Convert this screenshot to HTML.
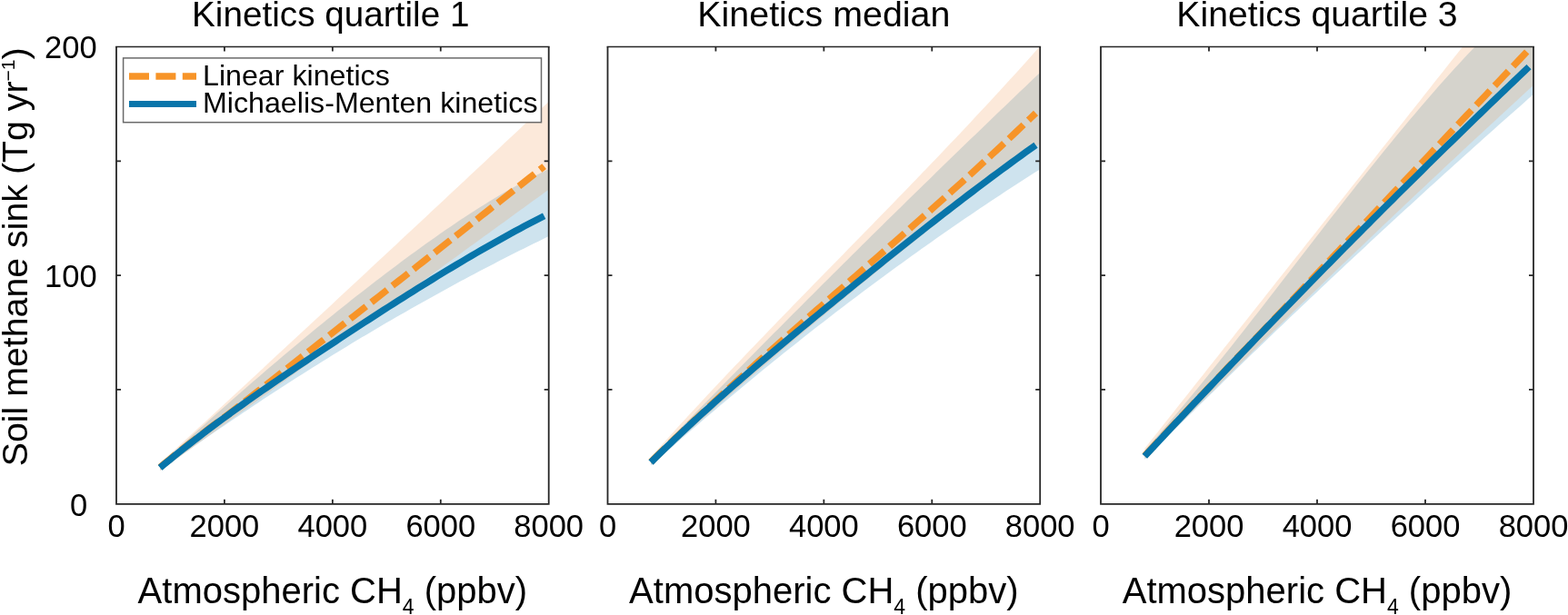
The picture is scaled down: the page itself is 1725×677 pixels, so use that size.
<!DOCTYPE html>
<html><head><meta charset="utf-8"><title>Soil methane sink vs atmospheric CH4</title>
<style>
html,body{margin:0;padding:0;background:#fff;}
svg{display:block;}
text{font-family:'Liberation Sans', Arial, Helvetica, sans-serif;fill:#000;}
</style></head><body>
<svg width="1725" height="677" viewBox="0 0 1725 677">
<defs>
<clipPath id="c0"><rect x="128.0" y="51.5" width="475.70000000000005" height="503.29999999999995"/></clipPath>
<clipPath id="c1"><rect x="668.5" y="51.5" width="475.70000000000005" height="503.29999999999995"/></clipPath>
<clipPath id="c2"><rect x="1211.0" y="51.5" width="476.0" height="503.29999999999995"/></clipPath>
</defs>
<g clip-path="url(#c0)">
<polygon points="176.11,511.52 181.51,506.56 186.92,501.62 192.32,496.70 197.73,491.78 203.13,486.88 208.54,481.99 213.94,477.12 219.35,472.26 224.75,467.41 230.16,462.58 235.56,457.76 240.97,452.96 246.37,448.18 251.78,443.41 257.18,438.66 262.59,433.92 267.99,429.20 273.40,424.50 278.80,419.81 284.21,415.14 289.61,410.49 295.02,405.86 300.42,401.24 305.83,396.65 311.23,392.07 316.64,387.51 322.04,382.97 327.45,378.45 332.85,373.95 338.26,369.48 343.66,365.02 349.07,360.58 354.47,356.16 359.88,351.77 365.28,347.40 370.69,343.04 376.09,338.71 381.50,334.41 386.90,330.12 392.31,325.86 397.71,321.63 403.12,317.41 408.52,313.22 413.93,309.06 419.33,304.91 424.74,300.80 430.14,296.71 435.55,292.64 440.95,288.60 446.36,284.58 451.76,280.60 457.17,276.64 462.57,272.71 467.98,268.82 473.38,264.95 478.79,261.13 484.19,257.34 489.60,253.59 495.00,249.88 500.41,246.21 505.81,242.58 511.22,239.00 516.62,235.46 522.03,231.97 527.43,228.53 532.84,225.14 538.24,221.81 543.65,218.52 549.05,215.29 554.46,212.12 559.86,209.01 565.27,205.96 570.67,202.96 576.08,200.03 581.49,197.17 586.89,194.37 592.30,191.64 597.70,188.98 603.11,186.38 603.11,260.37 597.70,262.99 592.30,265.64 586.89,268.29 581.49,270.97 576.08,273.66 570.67,276.37 565.27,279.09 559.86,281.83 554.46,284.59 549.05,287.36 543.65,290.15 538.24,292.95 532.84,295.77 527.43,298.61 522.03,301.46 516.62,304.33 511.22,307.22 505.81,310.12 500.41,313.04 495.00,315.98 489.60,318.93 484.19,321.90 478.79,324.88 473.38,327.88 467.98,330.90 462.57,333.93 457.17,336.98 451.76,340.05 446.36,343.13 440.95,346.23 435.55,349.35 430.14,352.48 424.74,355.62 419.33,358.79 413.93,361.97 408.52,365.17 403.12,368.38 397.71,371.61 392.31,374.85 386.90,378.12 381.50,381.39 376.09,384.69 370.69,388.00 365.28,391.33 359.88,394.67 354.47,398.03 349.07,401.41 343.66,404.80 338.26,408.21 332.85,411.63 327.45,415.07 322.04,418.53 316.64,422.00 311.23,425.50 305.83,429.00 300.42,432.53 295.02,436.06 289.61,439.62 284.21,443.19 278.80,446.78 273.40,450.39 267.99,454.01 262.59,457.64 257.18,461.30 251.78,464.97 246.37,468.65 240.97,472.36 235.56,476.07 230.16,479.81 224.75,483.56 219.35,487.33 213.94,491.11 208.54,494.91 203.13,498.73 197.73,502.56 192.32,506.41 186.92,510.28 181.51,514.16 176.11,518.06" fill="rgb(8,117,170)" fill-opacity="0.2"/>
<polygon points="176.11,510.01 181.51,505.03 186.92,500.04 192.32,495.06 197.73,490.08 203.13,485.09 208.54,480.10 213.94,475.11 219.35,470.12 224.75,465.13 230.16,460.14 235.56,455.14 240.97,450.15 246.37,445.15 251.78,440.15 257.18,435.15 262.59,430.15 267.99,425.15 273.40,420.15 278.80,415.14 284.21,410.14 289.61,405.13 295.02,400.12 300.42,395.11 305.83,390.10 311.23,385.09 316.64,380.07 322.04,375.06 327.45,370.04 332.85,365.02 338.26,360.00 343.66,354.98 349.07,349.96 354.47,344.93 359.88,339.91 365.28,334.88 370.69,329.85 376.09,324.83 381.50,319.80 386.90,314.76 392.31,309.73 397.71,304.70 403.12,299.66 408.52,294.62 413.93,289.59 419.33,284.55 424.74,279.50 430.14,274.46 435.55,269.42 440.95,264.37 446.36,259.33 451.76,254.28 457.17,249.23 462.57,244.18 467.98,239.13 473.38,234.08 478.79,229.02 484.19,223.96 489.60,218.91 495.00,213.85 500.41,208.79 505.81,203.73 511.22,198.67 516.62,193.60 522.03,188.54 527.43,183.47 532.84,178.40 538.24,173.33 543.65,168.26 549.05,163.19 554.46,158.12 559.86,153.04 565.27,147.97 570.67,142.89 576.08,137.81 581.49,132.73 586.89,127.65 592.30,122.57 597.70,117.48 603.11,112.40 603.11,209.03 597.70,212.96 592.30,216.89 586.89,220.82 581.49,224.75 576.08,228.68 570.67,232.60 565.27,236.53 559.86,240.46 554.46,244.38 549.05,248.31 543.65,252.23 538.24,256.16 532.84,260.08 527.43,264.01 522.03,267.93 516.62,271.86 511.22,275.78 505.81,279.70 500.41,283.63 495.00,287.55 489.60,291.47 484.19,295.39 478.79,299.31 473.38,303.23 467.98,307.15 462.57,311.07 457.17,314.99 451.76,318.91 446.36,322.83 440.95,326.75 435.55,330.67 430.14,334.59 424.74,338.50 419.33,342.42 413.93,346.34 408.52,350.25 403.12,354.17 397.71,358.09 392.31,362.00 386.90,365.92 381.50,369.83 376.09,373.75 370.69,377.66 365.28,381.57 359.88,385.49 354.47,389.40 349.07,393.31 343.66,397.22 338.26,401.13 332.85,405.05 327.45,408.96 322.04,412.87 316.64,416.78 311.23,420.69 305.83,424.60 300.42,428.50 295.02,432.41 289.61,436.32 284.21,440.23 278.80,444.14 273.40,448.04 267.99,451.95 262.59,455.86 257.18,459.76 251.78,463.67 246.37,467.57 240.97,471.48 235.56,475.38 230.16,479.29 224.75,483.19 219.35,487.10 213.94,491.00 208.54,494.90 203.13,498.80 197.73,502.71 192.32,506.61 186.92,510.51 181.51,514.41 176.11,518.31" fill="rgb(243,155,85)" fill-opacity="0.22"/>
<polyline points="176.11,514.28 181.45,509.87 186.80,505.51 192.15,501.19 197.50,496.91 202.85,492.67 208.20,488.47 213.55,484.31 218.89,480.19 224.24,476.11 229.59,472.06 234.94,468.05 240.29,464.07 245.64,460.12 250.99,456.20 256.33,452.10 261.68,447.92 267.03,443.73 272.38,439.55 277.73,435.36 283.08,431.18 288.43,426.99 293.77,422.80 299.12,418.61 304.47,414.43 309.82,410.24 315.17,406.05 320.52,401.86 325.87,397.66 331.21,393.47 336.56,389.28 341.91,385.09 347.26,380.89 352.61,376.70 357.96,372.50 363.31,368.31 368.66,364.11 374.00,359.92 379.35,355.72 384.70,351.52 390.05,347.32 395.40,343.12 400.75,338.92 406.10,334.72 411.44,330.52 416.79,326.32 422.14,322.12 427.49,317.92 432.84,313.71 438.19,309.51 443.54,305.31 448.88,301.10 454.23,296.90 459.58,292.69 464.93,288.48 470.28,284.27 475.63,280.07 480.98,275.86 486.32,271.65 491.67,267.44 497.02,263.23 502.37,259.02 507.72,254.81 513.07,250.59 518.42,246.38 523.77,242.17 529.11,237.95 534.46,233.74 539.81,229.52 545.16,225.31 550.51,221.09 555.86,216.87 561.21,212.65 566.55,208.44 571.90,204.22 577.25,200.00 582.60,195.78 587.95,191.56 593.30,187.33 598.65,183.11" fill="none" stroke="rgb(247,148,40)" stroke-width="7.4" stroke-dasharray="22 7.5"/>
<polyline points="176.11,514.79 181.45,510.38 186.80,506.01 192.15,501.69 197.50,497.41 202.85,493.17 208.20,488.98 213.55,484.82 218.89,480.70 224.24,476.61 229.59,472.57 234.94,468.55 240.29,464.57 245.64,460.62 250.99,456.70 256.33,452.82 261.68,448.96 267.03,445.13 272.38,441.32 277.73,437.54 283.08,433.79 288.43,430.05 293.77,426.34 299.12,422.65 304.47,418.98 309.82,415.33 315.17,411.70 320.52,408.08 325.87,404.47 331.21,400.88 336.56,397.31 341.91,393.74 347.26,390.18 352.61,386.64 357.96,383.10 363.31,379.57 368.66,376.04 374.00,372.52 379.35,369.01 384.70,365.50 390.05,362.00 395.40,358.51 400.75,355.02 406.10,351.55 411.44,348.08 416.79,344.63 422.14,341.19 427.49,337.76 432.84,334.34 438.19,330.93 443.54,327.54 448.88,324.16 454.23,320.79 459.58,317.44 464.93,314.11 470.28,310.79 475.63,307.49 480.98,304.21 486.32,300.95 491.67,297.70 497.02,294.48 502.37,291.27 507.72,288.09 513.07,284.93 518.42,281.78 523.77,278.67 529.11,275.57 534.46,272.50 539.81,269.45 545.16,266.43 550.51,263.43 555.86,260.46 561.21,257.52 566.55,254.60 571.90,251.72 577.25,248.86 582.60,246.03 587.95,243.23 593.30,240.46 598.65,237.72" fill="none" stroke="rgb(8,117,170)" stroke-width="7.4"/>
</g>
<path d="M128.0,51.5V554.8H603.7V51.5" fill="none" stroke="#262626" stroke-width="1.8"/>
<path d="M127.1,51.5H604.6" fill="none" stroke="#262626" stroke-width="1.4"/>
<path d="M246.93,554.8V549.8M246.93,51.5V56.5M365.85,554.8V549.8M365.85,51.5V56.5M484.78,554.8V549.8M484.78,51.5V56.5M128.0,428.97H133.0M603.7,428.97H598.7M128.0,303.15H133.0M603.7,303.15H598.7M128.0,177.32H133.0M603.7,177.32H598.7" stroke="#262626" stroke-width="1.8" fill="none"/>
<text x="128.00" y="591" font-size="34.5" text-anchor="middle">0</text>
<text x="246.93" y="591" font-size="34.5" text-anchor="middle">2000</text>
<text x="365.85" y="591" font-size="34.5" text-anchor="middle">4000</text>
<text x="484.78" y="591" font-size="34.5" text-anchor="middle">6000</text>
<text x="603.70" y="591" font-size="34.5" text-anchor="middle">8000</text>
<text x="363.75" y="28.9" font-size="38.7" text-anchor="middle">Kinetics quartile 1</text>
<text x="365.85" y="663.5" font-size="40" text-anchor="middle">Atmospheric CH<tspan font-size="23" dy="12.3">4</tspan><tspan dy="-12.3"> (ppbv)</tspan></text>
<g clip-path="url(#c1)">
<polygon points="716.07,504.97 721.48,499.38 726.89,493.79 732.31,488.21 737.72,482.64 743.13,477.07 748.54,471.50 753.95,465.94 759.36,460.39 764.78,454.84 770.19,449.30 775.60,443.76 781.01,438.23 786.42,432.71 791.84,427.19 797.25,421.67 802.66,416.16 808.07,410.66 813.48,405.16 818.89,399.67 824.31,394.19 829.72,388.71 835.13,383.23 840.54,377.76 845.95,372.30 851.37,366.84 856.78,361.39 862.19,355.94 867.60,350.50 873.01,345.07 878.43,339.64 883.84,334.21 889.25,328.79 894.66,323.38 900.07,317.97 905.48,312.57 910.90,307.17 916.31,301.78 921.72,296.40 927.13,291.02 932.54,285.64 937.96,280.28 943.37,274.91 948.78,269.56 954.19,264.20 959.60,258.86 965.01,253.52 970.43,248.18 975.84,242.86 981.25,237.53 986.66,232.21 992.07,226.90 997.49,221.60 1002.90,216.29 1008.31,211.00 1013.72,205.71 1019.13,200.43 1024.54,195.15 1029.96,189.87 1035.37,184.61 1040.78,179.35 1046.19,174.09 1051.60,168.84 1057.02,163.59 1062.43,158.35 1067.84,153.12 1073.25,147.89 1078.66,142.67 1084.08,137.45 1089.49,132.24 1094.90,127.04 1100.31,121.84 1105.72,116.64 1111.13,111.45 1116.55,106.27 1121.96,101.09 1127.37,95.92 1132.78,90.76 1138.19,85.59 1143.61,80.44 1143.61,186.64 1138.19,190.08 1132.78,193.54 1127.37,197.01 1121.96,200.51 1116.55,204.02 1111.13,207.55 1105.72,211.10 1100.31,214.66 1094.90,218.24 1089.49,221.84 1084.08,225.46 1078.66,229.10 1073.25,232.75 1067.84,236.42 1062.43,240.11 1057.02,243.81 1051.60,247.53 1046.19,251.27 1040.78,255.03 1035.37,258.80 1029.96,262.60 1024.54,266.41 1019.13,270.23 1013.72,274.08 1008.31,277.94 1002.90,281.82 997.49,285.72 992.07,289.63 986.66,293.57 981.25,297.52 975.84,301.48 970.43,305.47 965.01,309.47 959.60,313.49 954.19,317.53 948.78,321.58 943.37,325.66 937.96,329.75 932.54,333.85 927.13,337.98 921.72,342.12 916.31,346.28 910.90,350.46 905.48,354.66 900.07,358.87 894.66,363.10 889.25,367.35 883.84,371.61 878.43,375.89 873.01,380.19 867.60,384.51 862.19,388.85 856.78,393.20 851.37,397.57 845.95,401.96 840.54,406.36 835.13,410.79 829.72,415.23 824.31,419.69 818.89,424.16 813.48,428.65 808.07,433.16 802.66,437.69 797.25,442.24 791.84,446.80 786.42,451.38 781.01,455.98 775.60,460.60 770.19,465.23 764.78,469.88 759.36,474.55 753.95,479.23 748.54,483.94 743.13,488.66 737.72,493.39 732.31,498.15 726.89,502.92 721.48,507.71 716.07,512.52" fill="rgb(8,117,170)" fill-opacity="0.2"/>
<polygon points="716.07,502.96 721.48,496.92 726.89,490.90 732.31,484.92 737.72,478.95 743.13,473.01 748.54,467.09 753.95,461.20 759.36,455.33 764.78,449.47 770.19,443.64 775.60,437.83 781.01,432.04 786.42,426.27 791.84,420.51 797.25,414.77 802.66,409.05 808.07,403.34 813.48,397.65 818.89,391.97 824.31,386.31 829.72,380.66 835.13,375.02 840.54,369.40 845.95,363.78 851.37,358.17 856.78,352.58 862.19,346.99 867.60,341.41 873.01,335.84 878.43,330.27 883.84,324.72 889.25,319.16 894.66,313.61 900.07,308.07 905.48,302.53 910.90,296.99 916.31,291.45 921.72,285.91 927.13,280.38 932.54,274.84 937.96,269.31 943.37,263.77 948.78,258.23 954.19,252.69 959.60,247.14 965.01,241.59 970.43,236.03 975.84,230.47 981.25,224.90 986.66,219.33 992.07,213.75 997.49,208.16 1002.90,202.56 1008.31,196.95 1013.72,191.33 1019.13,185.69 1024.54,180.05 1029.96,174.40 1035.37,168.73 1040.78,163.04 1046.19,157.35 1051.60,151.63 1057.02,145.90 1062.43,140.16 1067.84,134.39 1073.25,128.61 1078.66,122.81 1084.08,116.99 1089.49,111.15 1094.90,105.29 1100.31,99.41 1105.72,93.51 1111.13,87.58 1116.55,81.63 1121.96,75.66 1127.37,69.66 1132.78,63.63 1138.19,57.58 1143.61,51.50 1143.61,158.45 1138.19,162.54 1132.78,166.65 1127.37,170.76 1121.96,174.88 1116.55,179.01 1111.13,183.15 1105.72,187.30 1100.31,191.46 1094.90,195.63 1089.49,199.81 1084.08,204.00 1078.66,208.20 1073.25,212.41 1067.84,216.63 1062.43,220.85 1057.02,225.09 1051.60,229.34 1046.19,233.59 1040.78,237.86 1035.37,242.14 1029.96,246.42 1024.54,250.72 1019.13,255.02 1013.72,259.34 1008.31,263.66 1002.90,268.00 997.49,272.34 992.07,276.69 986.66,281.06 981.25,285.43 975.84,289.81 970.43,294.20 965.01,298.60 959.60,303.02 954.19,307.44 948.78,311.87 943.37,316.31 937.96,320.76 932.54,325.22 927.13,329.69 921.72,334.16 916.31,338.65 910.90,343.15 905.48,347.66 900.07,352.18 894.66,356.70 889.25,361.24 883.84,365.79 878.43,370.34 873.01,374.91 867.60,379.48 862.19,384.07 856.78,388.66 851.37,393.27 845.95,397.88 840.54,402.51 835.13,407.14 829.72,411.78 824.31,416.43 818.89,421.10 813.48,425.77 808.07,430.45 802.66,435.14 797.25,439.84 791.84,444.55 786.42,449.27 781.01,454.00 775.60,458.74 770.19,463.49 764.78,468.25 759.36,473.02 753.95,477.80 748.54,482.59 743.13,487.38 737.72,492.19 732.31,497.01 726.89,501.83 721.48,506.67 716.07,511.52" fill="rgb(243,155,85)" fill-opacity="0.22"/>
<polyline points="716.07,508.50 721.43,503.19 726.79,497.93 732.15,492.72 737.51,487.55 742.87,482.42 748.23,477.34 753.59,472.29 758.95,467.29 764.31,462.32 769.67,457.37 775.03,452.34 780.39,447.34 785.75,442.36 791.11,437.40 796.47,432.45 801.83,427.53 807.19,422.63 812.55,417.74 817.91,412.87 823.27,408.02 828.63,403.19 833.99,398.36 839.35,393.56 844.71,388.76 850.07,383.98 855.43,379.21 860.79,374.45 866.15,369.70 871.51,364.97 876.87,360.24 882.23,355.52 887.59,350.80 892.95,346.10 898.31,341.40 903.67,336.70 909.03,332.01 914.39,327.33 919.75,322.64 925.11,317.96 930.47,313.29 935.83,308.61 941.19,303.93 946.55,299.25 951.91,294.58 957.27,289.90 962.63,285.21 967.99,280.53 973.35,275.84 978.71,271.14 984.07,266.44 989.43,261.74 994.79,257.02 1000.14,252.30 1005.50,247.57 1010.86,242.83 1016.22,238.08 1021.58,233.32 1026.94,228.55 1032.30,223.77 1037.66,218.98 1043.02,214.17 1048.38,209.34 1053.74,204.51 1059.10,199.65 1064.46,194.78 1069.82,189.90 1075.18,184.99 1080.54,180.07 1085.90,175.13 1091.26,170.16 1096.62,165.18 1101.98,160.18 1107.34,155.15 1112.70,150.10 1118.06,145.02 1123.42,139.93 1128.78,134.80 1134.14,129.65 1139.50,124.48" fill="none" stroke="rgb(247,148,40)" stroke-width="7.4" stroke-dasharray="22 7.5"/>
<polyline points="716.07,509.00 721.43,503.69 726.79,498.43 732.15,493.22 737.51,488.05 742.87,482.92 748.23,477.84 753.59,472.79 758.95,467.79 764.31,462.82 769.67,457.89 775.03,453.00 780.39,448.14 785.75,443.31 791.11,438.52 796.47,433.75 801.83,429.02 807.19,424.32 812.55,419.64 817.91,414.99 823.27,410.36 828.63,405.75 833.99,401.17 839.35,396.61 844.71,392.07 850.07,387.55 855.43,383.05 860.79,378.56 866.15,374.09 871.51,369.63 876.87,365.18 882.23,360.75 887.59,356.32 892.95,351.91 898.31,347.50 903.67,343.10 909.03,338.70 914.39,334.31 919.75,329.93 925.11,325.55 930.47,321.17 935.83,316.81 941.19,312.45 946.55,308.09 951.91,303.75 957.27,299.41 962.63,295.09 967.99,290.77 973.35,286.46 978.71,282.16 984.07,277.87 989.43,273.59 994.79,269.32 1000.14,265.06 1005.50,260.82 1010.86,256.59 1016.22,252.37 1021.58,248.16 1026.94,243.97 1032.30,239.79 1037.66,235.62 1043.02,231.47 1048.38,227.33 1053.74,223.21 1059.10,219.11 1064.46,215.02 1069.82,210.95 1075.18,206.89 1080.54,202.86 1085.90,198.84 1091.26,194.83 1096.62,190.85 1101.98,186.89 1107.34,182.94 1112.70,179.02 1118.06,175.12 1123.42,171.23 1128.78,167.37 1134.14,163.53 1139.50,159.71" fill="none" stroke="rgb(8,117,170)" stroke-width="7.4"/>
</g>
<path d="M668.5,51.5V554.8H1144.2V51.5" fill="none" stroke="#262626" stroke-width="1.8"/>
<path d="M667.6,51.5H1145.1000000000001" fill="none" stroke="#262626" stroke-width="1.4"/>
<path d="M787.42,554.8V549.8M787.42,51.5V56.5M906.35,554.8V549.8M906.35,51.5V56.5M1025.28,554.8V549.8M1025.28,51.5V56.5M668.5,428.97H673.5M1144.2,428.97H1139.2M668.5,303.15H673.5M1144.2,303.15H1139.2M668.5,177.32H673.5M1144.2,177.32H1139.2" stroke="#262626" stroke-width="1.8" fill="none"/>
<text x="668.50" y="591" font-size="34.5" text-anchor="middle">0</text>
<text x="787.42" y="591" font-size="34.5" text-anchor="middle">2000</text>
<text x="906.35" y="591" font-size="34.5" text-anchor="middle">4000</text>
<text x="1025.28" y="591" font-size="34.5" text-anchor="middle">6000</text>
<text x="1144.20" y="591" font-size="34.5" text-anchor="middle">8000</text>
<text x="906.35" y="28.9" font-size="39.4" text-anchor="middle">Kinetics median</text>
<text x="906.35" y="663.5" font-size="40" text-anchor="middle">Atmospheric CH<tspan font-size="23" dy="12.3">4</tspan><tspan dy="-12.3"> (ppbv)</tspan></text>
<g clip-path="url(#c2)">
<polygon points="1259.31,495.91 1264.72,489.82 1270.13,483.66 1275.53,477.44 1280.94,471.17 1286.35,464.84 1291.75,458.47 1297.16,452.04 1302.56,445.57 1307.97,439.05 1313.38,432.49 1318.78,425.88 1324.19,419.24 1329.59,412.56 1335.00,405.85 1340.41,399.10 1345.81,392.32 1351.22,385.51 1356.63,378.67 1362.03,371.81 1367.44,364.93 1372.84,358.02 1378.25,351.10 1383.66,344.16 1389.06,337.20 1394.47,330.23 1399.88,323.25 1405.28,316.26 1410.69,309.26 1416.09,302.26 1421.50,295.26 1426.91,288.25 1432.31,281.25 1437.72,274.25 1443.13,267.26 1448.53,260.27 1453.94,253.29 1459.34,246.32 1464.75,239.37 1470.16,232.43 1475.56,225.51 1480.97,218.61 1486.38,211.73 1491.78,204.87 1497.19,198.04 1502.59,191.24 1508.00,184.46 1513.41,177.72 1518.81,171.01 1524.22,164.34 1529.62,157.70 1535.03,151.11 1540.44,144.56 1545.84,138.05 1551.25,131.58 1556.66,125.17 1562.06,118.80 1567.47,112.48 1572.87,106.22 1578.28,100.02 1583.69,93.87 1589.09,87.79 1594.50,81.76 1599.91,75.80 1605.31,69.91 1610.72,64.08 1616.12,58.32 1621.53,52.64 1626.94,47.03 1632.34,41.49 1637.75,36.04 1643.16,30.66 1648.56,25.37 1653.97,20.16 1659.37,15.04 1664.78,10.00 1670.19,5.06 1675.59,0.21 1681.00,-4.55 1686.40,-9.21 1686.40,104.35 1681.00,109.11 1675.59,113.88 1670.19,118.67 1664.78,123.45 1659.37,128.25 1653.97,133.06 1648.56,137.87 1643.16,142.69 1637.75,147.52 1632.34,152.36 1626.94,157.21 1621.53,162.06 1616.12,166.92 1610.72,171.79 1605.31,176.67 1599.91,181.56 1594.50,186.45 1589.09,191.35 1583.69,196.26 1578.28,201.18 1572.87,206.11 1567.47,211.04 1562.06,215.99 1556.66,220.94 1551.25,225.90 1545.84,230.86 1540.44,235.84 1535.03,240.82 1529.62,245.82 1524.22,250.82 1518.81,255.82 1513.41,260.84 1508.00,265.86 1502.59,270.90 1497.19,275.94 1491.78,280.98 1486.38,286.04 1480.97,291.11 1475.56,296.18 1470.16,301.26 1464.75,306.35 1459.34,311.44 1453.94,316.55 1448.53,321.66 1443.13,326.78 1437.72,331.91 1432.31,337.05 1426.91,342.20 1421.50,347.35 1416.09,352.51 1410.69,357.68 1405.28,362.86 1399.88,368.05 1394.47,373.24 1389.06,378.44 1383.66,383.65 1378.25,388.87 1372.84,394.10 1367.44,399.33 1362.03,404.58 1356.63,409.83 1351.22,415.09 1345.81,420.35 1340.41,425.63 1335.00,430.91 1329.59,436.20 1324.19,441.50 1318.78,446.81 1313.38,452.13 1307.97,457.45 1302.56,462.78 1297.16,468.12 1291.75,473.47 1286.35,478.83 1280.94,484.19 1275.53,489.56 1270.13,494.94 1264.72,500.33 1259.31,505.73" fill="rgb(8,117,170)" fill-opacity="0.2"/>
<polygon points="1259.31,493.65 1264.72,486.82 1270.13,479.98 1275.53,473.15 1280.94,466.31 1286.35,459.48 1291.75,452.65 1297.16,445.81 1302.56,438.98 1307.97,432.15 1313.38,425.31 1318.78,418.48 1324.19,411.64 1329.59,404.81 1335.00,397.97 1340.41,391.14 1345.81,384.31 1351.22,377.47 1356.63,370.64 1362.03,363.80 1367.44,356.97 1372.84,350.13 1378.25,343.30 1383.66,336.46 1389.06,329.63 1394.47,322.79 1399.88,315.96 1405.28,309.12 1410.69,302.29 1416.09,295.45 1421.50,288.62 1426.91,281.78 1432.31,274.95 1437.72,268.11 1443.13,261.28 1448.53,254.44 1453.94,247.60 1459.34,240.77 1464.75,233.93 1470.16,227.10 1475.56,220.26 1480.97,213.42 1486.38,206.59 1491.78,199.75 1497.19,192.92 1502.59,186.08 1508.00,179.24 1513.41,172.41 1518.81,165.57 1524.22,158.73 1529.62,151.90 1535.03,145.06 1540.44,138.22 1545.84,131.39 1551.25,124.55 1556.66,117.71 1562.06,110.88 1567.47,104.04 1572.87,97.20 1578.28,90.37 1583.69,83.53 1589.09,76.69 1594.50,69.85 1599.91,63.02 1605.31,56.18 1610.72,49.34 1616.12,42.50 1621.53,35.67 1626.94,28.83 1632.34,21.99 1637.75,15.15 1643.16,8.31 1648.56,1.48 1653.97,-5.36 1659.37,-12.20 1664.78,-19.04 1670.19,-25.88 1675.59,-32.72 1681.00,-39.55 1686.40,-46.39 1686.40,94.28 1681.00,99.25 1675.59,104.22 1670.19,109.20 1664.78,114.18 1659.37,119.17 1653.97,124.16 1648.56,129.17 1643.16,134.17 1637.75,139.19 1632.34,144.21 1626.94,149.23 1621.53,154.26 1616.12,159.30 1610.72,164.34 1605.31,169.39 1599.91,174.45 1594.50,179.51 1589.09,184.58 1583.69,189.65 1578.28,194.73 1572.87,199.81 1567.47,204.91 1562.06,210.00 1556.66,215.11 1551.25,220.21 1545.84,225.33 1540.44,230.45 1535.03,235.58 1529.62,240.71 1524.22,245.85 1518.81,250.99 1513.41,256.14 1508.00,261.30 1502.59,266.46 1497.19,271.63 1491.78,276.81 1486.38,281.99 1480.97,287.18 1475.56,292.37 1470.16,297.57 1464.75,302.77 1459.34,307.98 1453.94,313.20 1448.53,318.42 1443.13,323.65 1437.72,328.88 1432.31,334.12 1426.91,339.37 1421.50,344.62 1416.09,349.88 1410.69,355.15 1405.28,360.42 1399.88,365.69 1394.47,370.97 1389.06,376.26 1383.66,381.56 1378.25,386.86 1372.84,392.16 1367.44,397.48 1362.03,402.79 1356.63,408.12 1351.22,413.45 1345.81,418.78 1340.41,424.13 1335.00,429.47 1329.59,434.83 1324.19,440.19 1318.78,445.55 1313.38,450.93 1307.97,456.30 1302.56,461.69 1297.16,467.08 1291.75,472.47 1286.35,477.87 1280.94,483.28 1275.53,488.70 1270.13,494.12 1264.72,499.54 1259.31,504.97" fill="rgb(243,155,85)" fill-opacity="0.22"/>
<polyline points="1259.31,501.70 1264.66,495.95 1270.01,490.21 1275.37,484.47 1280.72,478.75 1286.07,473.03 1291.42,467.32 1296.77,461.62 1302.12,455.93 1307.47,450.24 1312.82,444.57 1318.17,438.90 1323.52,433.24 1328.87,427.59 1334.22,421.95 1339.57,416.31 1344.92,410.69 1350.27,405.07 1355.62,399.46 1360.97,393.86 1366.32,388.27 1371.67,382.69 1377.02,377.11 1382.38,371.54 1387.73,365.99 1393.08,360.44 1398.43,354.78 1403.78,349.11 1409.13,343.44 1414.48,337.77 1419.83,332.10 1425.18,326.44 1430.53,320.77 1435.88,315.10 1441.23,309.43 1446.58,303.76 1451.93,298.10 1457.28,292.43 1462.63,286.76 1467.98,281.10 1473.33,275.43 1478.68,269.76 1484.03,264.09 1489.38,258.43 1494.74,252.76 1500.09,247.10 1505.44,241.43 1510.79,235.76 1516.14,230.10 1521.49,224.43 1526.84,218.77 1532.19,213.10 1537.54,207.44 1542.89,201.77 1548.24,196.11 1553.59,190.44 1558.94,184.78 1564.29,179.11 1569.64,173.45 1574.99,167.78 1580.34,162.12 1585.69,156.45 1591.04,150.79 1596.39,145.13 1601.74,139.46 1607.10,133.80 1612.45,128.13 1617.80,122.47 1623.15,116.81 1628.50,111.14 1633.85,105.48 1639.20,99.82 1644.55,94.16 1649.90,88.49 1655.25,82.83 1660.60,77.17 1665.95,71.51 1671.30,65.84 1676.65,60.18 1682.00,54.52" fill="none" stroke="rgb(247,148,40)" stroke-width="7.4" stroke-dasharray="22 7.5"/>
<polyline points="1259.31,502.21 1264.66,496.45 1270.01,490.71 1275.37,484.98 1280.72,479.25 1286.07,473.53 1291.42,467.82 1296.77,462.12 1302.12,456.43 1307.47,450.75 1312.82,445.07 1318.17,439.40 1323.52,433.74 1328.87,428.09 1334.22,422.45 1339.57,416.82 1344.92,411.19 1350.27,405.58 1355.62,399.97 1360.97,394.37 1366.32,388.77 1371.67,383.19 1377.02,377.61 1382.38,372.05 1387.73,366.49 1393.08,360.94 1398.43,355.40 1403.78,349.86 1409.13,344.34 1414.48,338.82 1419.83,333.31 1425.18,327.81 1430.53,322.32 1435.88,316.84 1441.23,311.36 1446.58,305.90 1451.93,300.44 1457.28,294.99 1462.63,289.55 1467.98,284.11 1473.33,278.69 1478.68,273.27 1484.03,267.86 1489.38,262.46 1494.74,257.07 1500.09,251.69 1505.44,246.31 1510.79,240.95 1516.14,235.59 1521.49,230.24 1526.84,224.90 1532.19,219.57 1537.54,214.24 1542.89,208.93 1548.24,203.62 1553.59,198.32 1558.94,193.03 1564.29,187.75 1569.64,182.47 1574.99,177.21 1580.34,171.95 1585.69,166.70 1591.04,161.46 1596.39,156.23 1601.74,151.00 1607.10,145.79 1612.45,140.58 1617.80,135.38 1623.15,130.19 1628.50,125.01 1633.85,119.83 1639.20,114.67 1644.55,109.51 1649.90,104.36 1655.25,99.22 1660.60,94.09 1665.95,88.97 1671.30,83.85 1676.65,78.74 1682.00,73.65" fill="none" stroke="rgb(8,117,170)" stroke-width="7.4"/>
</g>
<path d="M1211.0,51.5V554.8H1687.0V51.5" fill="none" stroke="#262626" stroke-width="1.8"/>
<path d="M1210.1,51.5H1687.9" fill="none" stroke="#262626" stroke-width="1.4"/>
<path d="M1330.00,554.8V549.8M1330.00,51.5V56.5M1449.00,554.8V549.8M1449.00,51.5V56.5M1568.00,554.8V549.8M1568.00,51.5V56.5M1211.0,428.97H1216.0M1687.0,428.97H1682.0M1211.0,303.15H1216.0M1687.0,303.15H1682.0M1211.0,177.32H1216.0M1687.0,177.32H1682.0" stroke="#262626" stroke-width="1.8" fill="none"/>
<text x="1211.00" y="591" font-size="34.5" text-anchor="middle">0</text>
<text x="1330.00" y="591" font-size="34.5" text-anchor="middle">2000</text>
<text x="1449.00" y="591" font-size="34.5" text-anchor="middle">4000</text>
<text x="1568.00" y="591" font-size="34.5" text-anchor="middle">6000</text>
<text x="1687.00" y="591" font-size="34.5" text-anchor="middle">8000</text>
<text x="1449.00" y="28.9" font-size="39.2" text-anchor="middle">Kinetics quartile 3</text>
<text x="1449.00" y="663.5" font-size="40" text-anchor="middle">Atmospheric CH<tspan font-size="23" dy="12.3">4</tspan><tspan dy="-12.3"> (ppbv)</tspan></text>
<text x="96.2" y="568.00" font-size="34.5" text-anchor="end">0</text>
<text x="106.6" y="315.55" font-size="34.5" text-anchor="end">100</text>
<text x="106.6" y="63.90" font-size="34.5" text-anchor="end">200</text>
<text transform="translate(29.8,513.2) rotate(-90)" font-size="39.3">Soil methane sink (Tg yr<tspan font-size="21" dy="-13.5">−1</tspan><tspan dy="13.5">)</tspan></text>
<rect x="135.6" y="63.9" width="459.9" height="70.8" fill="#fff" stroke="#6a6a6a" stroke-width="1.5"/>
<line x1="142" y1="83.9" x2="216" y2="83.9" stroke="rgb(247,148,40)" stroke-width="7.5" stroke-dasharray="22 7.4"/>
<line x1="142" y1="114.4" x2="216" y2="114.4" stroke="rgb(8,117,170)" stroke-width="7"/>
<text x="223" y="94" font-size="32.2">Linear kinetics</text>
<text x="223" y="124.4" font-size="32.2">Michaelis-Menten kinetics</text>
</svg></body></html>
